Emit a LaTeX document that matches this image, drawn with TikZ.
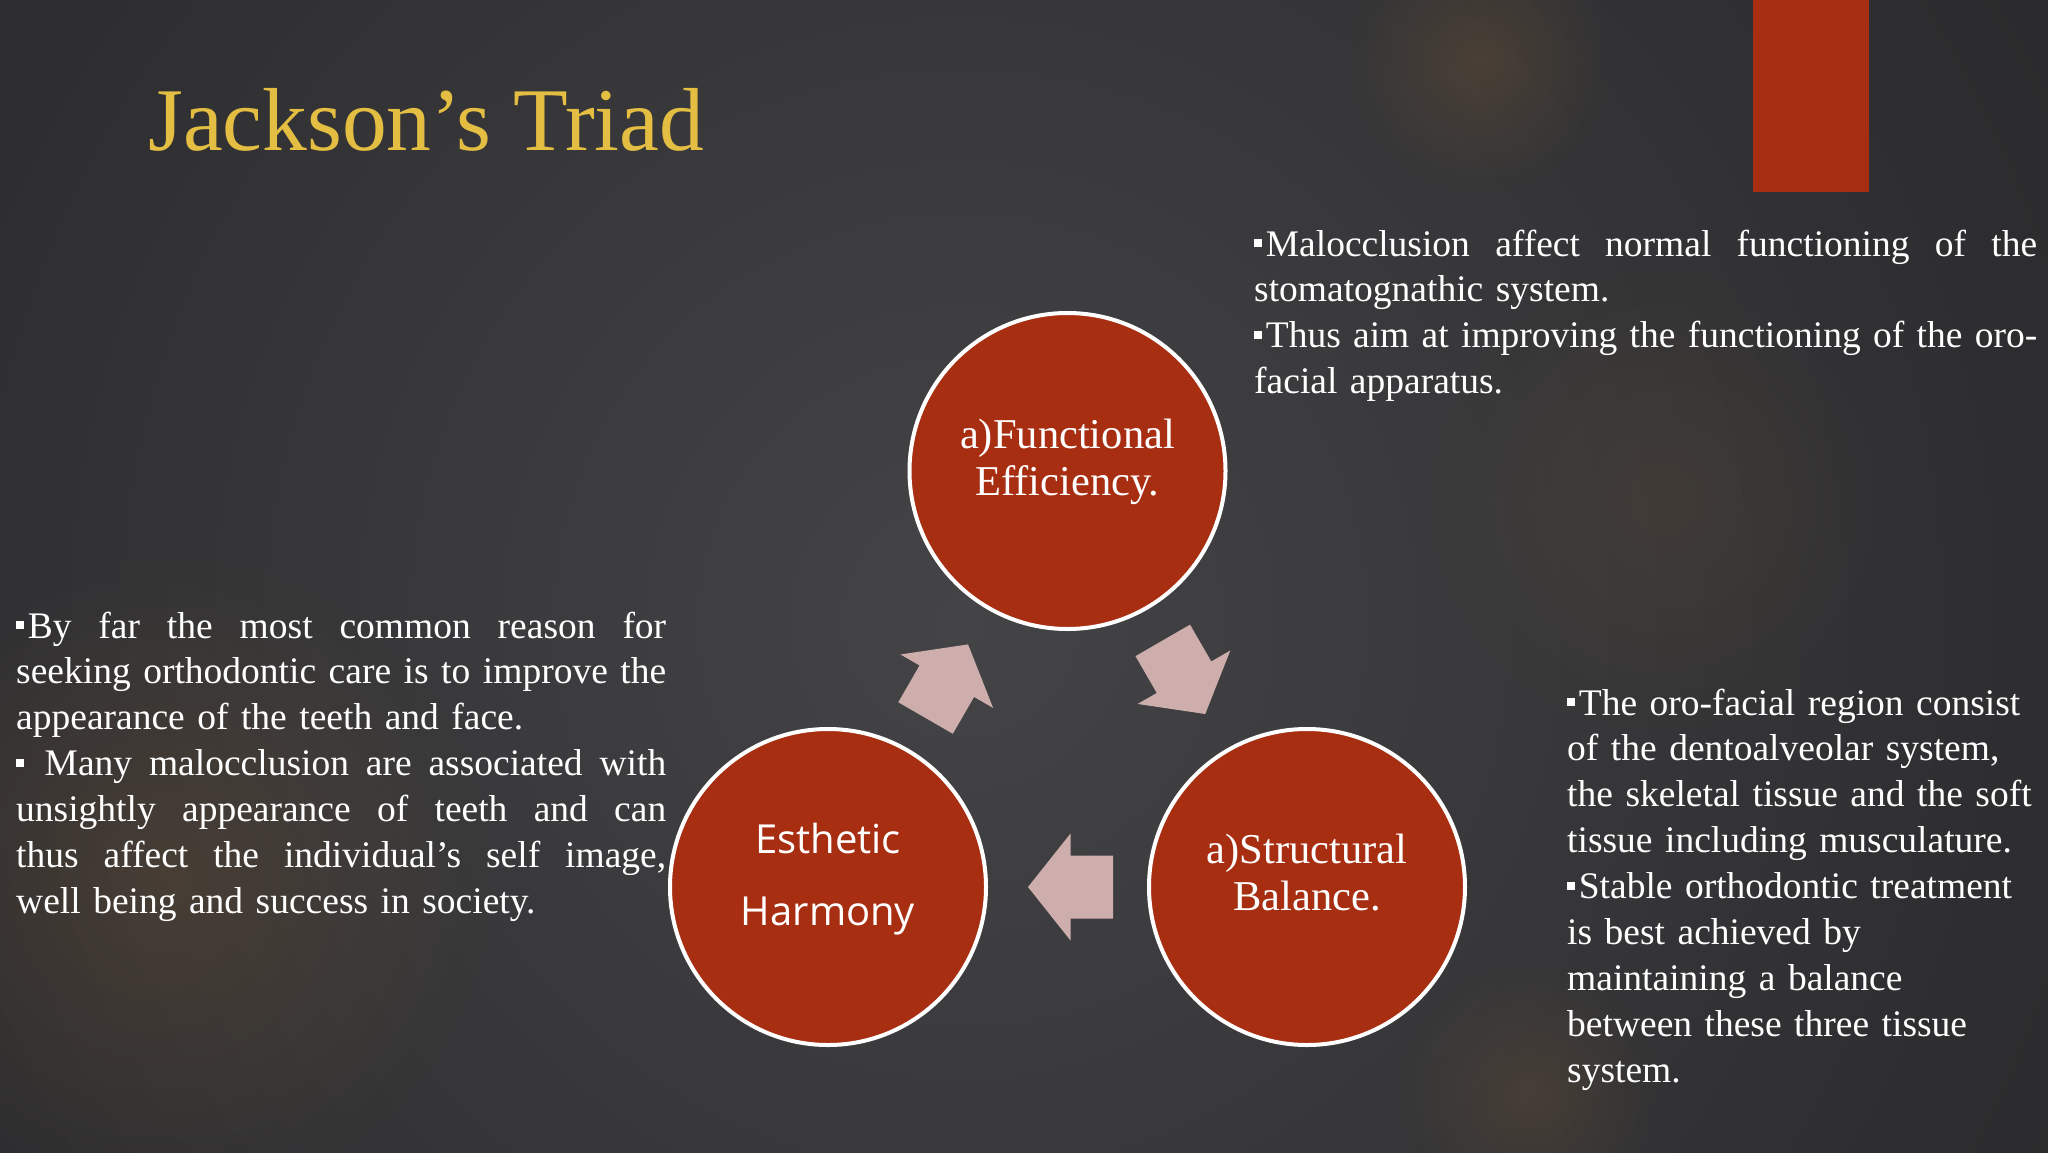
\documentclass[tikz,border=0pt]{standalone}
\usepackage{fontspec}
\setmainfont{Liberation Serif}
\newfontfamily\sansf{Open Sans}
\usetikzlibrary{fadings}
\definecolor{bgdark}{RGB}{25,25,26}
\definecolor{bgmid}{RGB}{46,46,48}
\definecolor{bglight}{RGB}{68,68,70}
\definecolor{rust}{RGB}{168,46,18}
\definecolor{gold}{RGB}{227,190,66}
\definecolor{mauve}{RGB}{205,174,172}
\definecolor{warm}{RGB}{125,90,52}
\pgfdeclareradialshading{bgglow}{\pgfpoint{0bp}{0bp}}{color(0bp)=(bglight); color(11bp)=(bgmid); color(24bp)=(bgdark); color(50bp)=(bgdark)}
\tikzfading[name=softdot, inner color=transparent!0, outer color=transparent!100]
\newcommand\bul{\raisebox{0.24em}{\rule{0.21em}{0.21em}}\hspace{0.1em}}
\newcommand\jline[2]{{\spaceskip=0.25em plus 2em minus 0.05em\xspaceskip=0.25em plus 2em minus 0.05em\makebox[#1][s]{#2}}}
\begin{document}
\begin{tikzpicture}[x=1pt,y=-1pt,
  circ/.style={circle, draw=white, line width=4pt, fill=rust, minimum size=316pt, inner sep=0pt},
  ctxt/.style={text=white, font=\fontsize{42.5}{47}\selectfont, anchor=base, inner sep=0pt},
  etxt/.style={text=white, font=\sansf\fontsize{40}{48}\selectfont, anchor=base, inner sep=0pt},
  para/.style={text=white, font=\fontsize{37.5}{45.9}\selectfont, anchor=base west, inner sep=0pt, align=left},
  blockarrow/.style={fill=mauve}]
\useasboundingbox (0,0) rectangle (2048,1152);
% background
\fill[bgdark] (0,0) rectangle (2048,1152);
\begin{scope}
  \clip (0,0) rectangle (2048,1152);
  \shade[shading=bgglow] (960,620) circle (2400);
  \fill[warm, path fading=softdot, fill opacity=0.30] (1480,60) circle (130);
  \fill[warm, path fading=softdot, fill opacity=0.28] (170,880) circle (320);
  \fill[warm, path fading=softdot, fill opacity=0.16] (1660,500) circle (230);
  \fill[warm, path fading=softdot, fill opacity=0.25] (1530,1095) circle (130);
\end{scope}
% red bar
\fill[rust] (1753,0) rectangle (1869,192);
% title
\node[text=gold, font=\fontsize{89.5}{100}\selectfont, anchor=base west, inner sep=0pt] (title) at (148,150) {Jackson’s Triad};
% circles
\node[circ] (func) at (1067.5,471) {};
\node[circ] (esth) at (828,887) {};
\node[circ] (stru) at (1307,887) {};
\node[ctxt] (func1) at (1067.5,448) {a)Functional};
\node[ctxt] (func2) at (1067.5,495) {Efficiency.};
\node[ctxt] (stru1) at (1307,863) {a)Structural};
\node[ctxt] (stru2) at (1307,910) {Balance.};
\node[etxt] (esth1) at (828,853) {Esthetic};
\node[etxt] (esth2) at (828,925) {Harmony};
% block arrows
\foreach \cx/\cy/\ang in {1070.5/887/180, 946.8/681.2/60, 1184/677.2/-60}{
  \begin{scope}[shift={(\cx,\cy)}, rotate=\ang]
    \fill[blockarrow] (-42.5,-31.5) -- (0,-31.5) -- (0,-53.5) -- (42.5,0) -- (0,53.5) -- (0,31.5) -- (-42.5,31.5) -- cycle;
  \end{scope}
}
% paragraphs
\node[para, text width=783pt] (topright) at (1254,256) {\jline{783pt}{\bul Malocclusion affect normal functioning of the}\\
stomatognathic system.\\
\jline{783pt}{\bul Thus aim at improving the functioning of the oro-}\\
facial apparatus.};
\node[para, text width=650pt] (left) at (16,638) {\jline{650pt}{\bul By far the most common reason for}\\
\jline{650pt}{seeking orthodontic care is to improve the}\\
appearance of the teeth and face.\\
\jline{650pt}{\bul\ Many malocclusion are associated with}\\
\jline{650pt}{unsightly appearance of teeth and can}\\
\jline{650pt}{thus affect the individual’s self image,}\\
well being and success in society.};
\node[para, text width=480pt] (right) at (1567,715) {\bul The oro-facial region consist\\
of the dentoalveolar system,\\
the skeletal tissue and the soft\\
tissue including musculature.\\
\bul Stable orthodontic treatment\\
is best achieved by\\
maintaining a balance\\
between these three tissue\\
system.};
\end{tikzpicture}
\end{document}
